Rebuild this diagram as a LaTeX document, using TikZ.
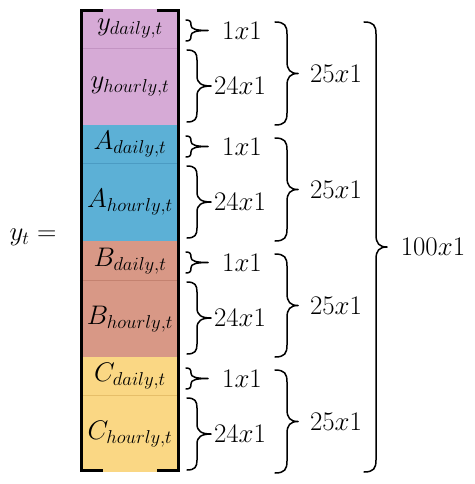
\documentclass[tikz,border=0pt]{standalone}
\usepackage{graphicx}
\DeclareMathSizes{24.88}{24.88}{17.28}{12}
\definecolor{cpink}{RGB}{214,170,214}
\definecolor{cpinkl}{RGB}{195,148,195}
\definecolor{cblue}{RGB}{92,176,214}
\definecolor{cbluel}{RGB}{75,155,195}
\definecolor{csal}{RGB}{216,152,134}
\definecolor{csall}{RGB}{196,130,112}
\definecolor{cyel}{RGB}{250,215,132}
\definecolor{cyell}{RGB}{230,190,105}
\newcommand\mtxt[1]{\scalebox{1.08}{$#1$}}
\tikzset{
  cell/.style={inner sep=0pt, minimum width=100pt, anchor=north, draw=none},
  sep/.style={line width=0.7pt},
  border/.style={line width=3pt, miter limit=10},
  bracestyle/.style={line width=1.5pt, line cap=round, line join=round},
  lab/.style={inner sep=0pt}
}
\newcommand\vbrace[5]{%
\pgfmathsetmacro\bym{(#2+#3)/2}%
\pgfmathsetmacro\byr{min(#4,(#3-#2)/4)}%
\draw[bracestyle] (#1,#2) .. controls ({#1+0.8*#4},#2) and ({#1+#4},{#2+0.3*\byr}) .. ({#1+#4},{#2+\byr})
 -- ({#1+#4},{\bym-\byr}) .. controls ({#1+#4},{\bym-0.3*\byr}) and ({#1+#4+0.3*#5},\bym) .. ({#1+#4+#5},\bym)
 .. controls ({#1+#4+0.3*#5},\bym) and ({#1+#4},{\bym+0.3*\byr}) .. ({#1+#4},{\bym+\byr})
 -- ({#1+#4},{#3-\byr}) .. controls ({#1+#4},{#3-0.3*\byr}) and ({#1+0.8*#4},#3) .. (#1,#3);}
\begin{document}
\begin{tikzpicture}[x=1pt,y=-1pt, every node/.append style={font=\Huge}]
\useasboundingbox (0,0) rectangle (474,484);
% cells
\node[cell, fill=cpink, minimum height=39pt] (yd) at (130,9) {\mtxt{y_{daily,t}}};
\node[cell, fill=cpink, minimum height=77pt] (yh) at (130,48) {\mtxt{y_{hourly,t}}};
\node[cell, fill=cblue, minimum height=38pt] (Ad) at (130,125) {\mtxt{A_{daily,t}}};
\node[cell, fill=cblue, minimum height=78pt] (Ah) at (130,163) {\mtxt{A_{hourly,t}}};
\node[cell, fill=csal, minimum height=39pt] (Bd) at (130,241) {\mtxt{B_{daily,t}}};
\node[cell, fill=csal, minimum height=77pt] (Bh) at (130,280) {\mtxt{B_{hourly,t}}};
\node[cell, fill=cyel, minimum height=38pt] (Cd) at (130,357) {\mtxt{C_{daily,t}}};
\node[cell, fill=cyel, minimum height=77pt] (Ch) at (130,395) {\mtxt{C_{hourly,t}}};
% separators
\draw[sep, cpinkl] (yd.south west) -- (yd.south east);
\draw[sep, cbluel] (Ad.south west) -- (Ad.south east);
\draw[sep, csall] (Bd.south west) -- (Bd.south east);
\draw[sep, cyell] (Cd.south west) -- (Cd.south east);
% borders
\draw[border] (103,10.5) -- (81.5,10.5) -- (81.5,470.5) -- (103,470.5);
\draw[border] (157,10.5) -- (178.5,10.5) -- (178.5,470.5) -- (157,470.5);
% y_t =
\node[lab] (yt) at (33,237) {\mtxt{y_t =}};
% small braces and labels
\foreach \o/\n in {0/a,116/b,232/c,348/d}{
  \vbrace{186}{20+\o}{41+\o}{5}{17}
  \vbrace{187}{50+\o}{122+\o}{10}{14}
  \vbrace{275}{22+\o}{125+\o}{12}{11}
  \node[lab] (one\n) at (242,31+\o) {\mtxt{1x1}};
  \node[lab] (tf\n) at (240,86+\o) {\mtxt{24x1}};
  \node[lab] (tw\n) at (336,74+\o) {\mtxt{25x1}};
}
\vbrace{364}{22}{472}{12}{11}
\node[lab] (hund) at (433,247) {\mtxt{100x1}};
\end{tikzpicture}
\end{document}
